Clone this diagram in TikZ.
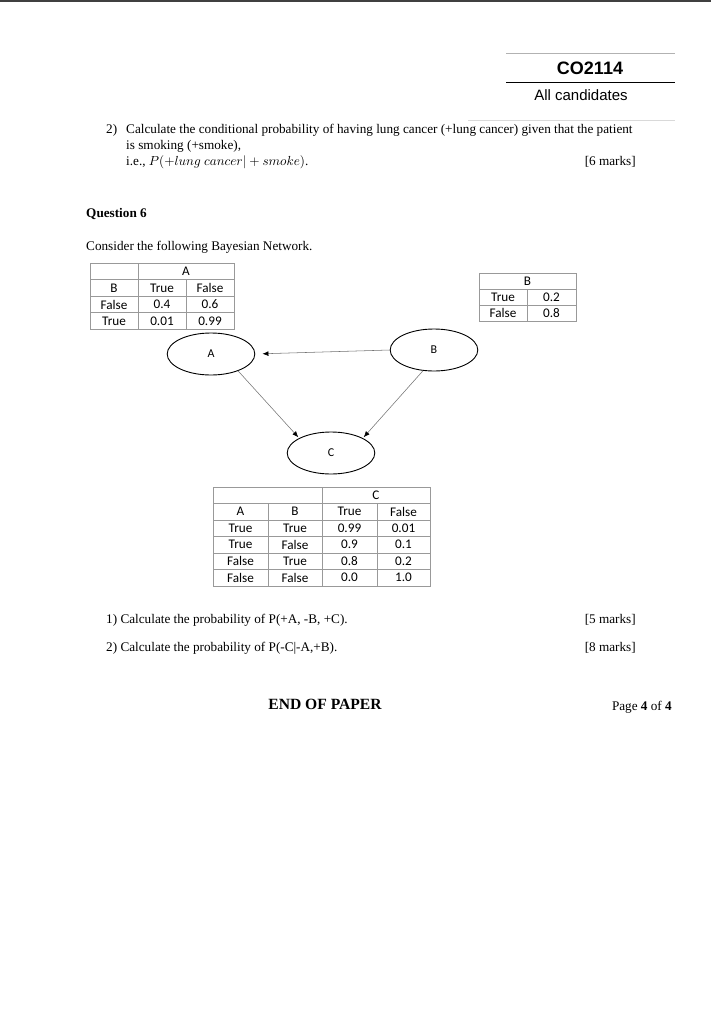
\documentclass[tikz,border=0pt]{standalone}
\usepackage{fontspec}
\setmainfont{Liberation Serif}
\newfontfamily\headfont{Liberation Sans}
\newfontfamily\tabfont{Carlito}
\usetikzlibrary{shapes.geometric,arrows.meta}

\begin{document}
\begin{tikzpicture}[x=0.8333pt, y=-0.8333pt,
    body/.style={font=\fontsize{11}{13}\selectfont, inner sep=0pt, anchor=base west},
    marks/.style={body, anchor=base east},
    cell/.style={font=\tabfont\fontsize{11}{12}\selectfont, inner sep=0pt},
    grid/.style={draw=black!40, line width=0.5pt},
    bayes/.style={draw, ellipse, line width=0.75pt, minimum width=73pt, minimum height=35pt,
                  inner sep=0pt, font=\tabfont\fontsize{10}{11}\selectfont},
    link/.style={draw=black!55, line width=0.45pt, -{Latex[length=5pt,width=4pt,color=black]}}]
  %% Page
  \useasboundingbox (0,0) rectangle (711,1024);
  \fill[white] (0,0) rectangle (711,1024);
  \draw[black!75, line width=1.5pt] (0,1) -- (711,1);

  %% Header box
  \draw[black!30, line width=0.6pt] (506,53) -- (675,53);
  \node[font=\headfont\bfseries\fontsize{15}{18}\selectfont] (code) at (590,68) {CO2114};
  \draw[black, line width=0.6pt] (506,82) -- (675,82);
  \node[font=\headfont\fontsize{12.5}{15}\selectfont] (cand) at (581,95) {All candidates};
  \draw[black!15, line width=0.8pt] (468,120) -- (675,120);

  %% End of previous question
  \node[body] (pnum) at (106,133) {2)};
  \node[body] (pline1) at (126,133) {Calculate the conditional probability of having lung cancer (+lung cancer) given that the patient};
  \node[body] (pline2) at (126,149) {is smoking (+smoke),};
  \node[body] (pline3) at (126,165) {i.e., $P(+lung\ cancer| + smoke)$.};
  \node[marks] (pmarks) at (636,165) {[6 marks]};

  %% Question 6
  \node[body, font=\bfseries\fontsize{11}{13}\selectfont] (qsix) at (86,217) {Question 6};
  \node[body] (intro) at (86,250) {Consider the following Bayesian Network.};

  %% Table of A given B
  \draw[grid] (90,263) rectangle (234,329);
  \foreach \y in {279.5,296,312.5} \draw[grid] (90,\y) -- (234,\y);
  \draw[grid] (138,263) -- (138,329);
  \draw[grid] (186,279.5) -- (186,329);
  \node[cell] (ta-head) at (186,271.5) {A};
  \foreach \b/\t/\f [count=\r] in {B/True/False, False/0.4/0.6, True/0.01/0.99} {
    \node[cell] (ta-\r-b) at (114,{271.5+16.5*\r}) {\b};
    \node[cell] (ta-\r-t) at (162,{271.5+16.5*\r}) {\t};
    \node[cell] (ta-\r-f) at (210,{271.5+16.5*\r}) {\f};
  }

  %% Table of B
  \draw[grid] (479,273) rectangle (576,321);
  \foreach \y in {289,305} \draw[grid] (479,\y) -- (576,\y);
  \draw[grid] (527,289) -- (527,321);
  \node[cell] (tb-head) at (527.5,281) {B};
  \node[cell] (tb-1-v) at (503,297) {True};
  \node[cell] (tb-1-p) at (551.5,297) {0.2};
  \node[cell] (tb-2-v) at (503,313) {False};
  \node[cell] (tb-2-p) at (551.5,313) {0.8};

  %% Network
  \node[bayes] (A) at (211,354) {A};
  \node[bayes] (B) at (434,350) {B};
  \node[bayes] (C) at (331,453) {C};
  \draw[link, shorten >=6pt] (B.west) -- (A.east);
  \draw[link, shorten >=1pt] (A.-32) -- (C.155);
  \draw[link, shorten >=1pt] (B.-118) -- (C.25);

  %% Table of C given A and B
  \draw[grid] (213,487) rectangle (430,586);
  \foreach \y in {503.5,520,536.5,553,569.5} \draw[grid] (213,\y) -- (430,\y);
  \draw[grid] (322,487) -- (322,586);
  \foreach \x in {268,377} \draw[grid] (\x,503.5) -- (\x,586);
  \node[cell] (tc-head) at (376,495.25) {C};
  \foreach \a/\b/\t/\f [count=\r] in {A/B/True/False, True/True/0.99/0.01, True/False/0.9/0.1,
                                      False/True/0.8/0.2, False/False/0.0/1.0} {
    \node[cell] (tc-\r-a) at (240.5,{495.25+16.5*\r}) {\a};
    \node[cell] (tc-\r-b) at (295,{495.25+16.5*\r}) {\b};
    \node[cell] (tc-\r-t) at (349.5,{495.25+16.5*\r}) {\t};
    \node[cell] (tc-\r-f) at (403.5,{495.25+16.5*\r}) {\f};
  }

  %% Parts
  \node[body] (qone) at (106,623) {1) Calculate the probability of P(+A, -B, +C).};
  \node[marks] (qonemarks) at (636,623) {[5 marks]};
  \node[body] (qtwo) at (106,651) {2) Calculate the probability of P(-C|-A,+B).};
  \node[marks] (qtwomarks) at (636,651) {[8 marks]};

  %% Footer
  \node[body, anchor=base, font=\bfseries\fontsize{13}{15}\selectfont] (endp) at (325,709) {END OF PAPER};
  \node[marks] (pageno) at (672,710) {Page \textbf{4} of \textbf{4}};
\end{tikzpicture}
\end{document}
